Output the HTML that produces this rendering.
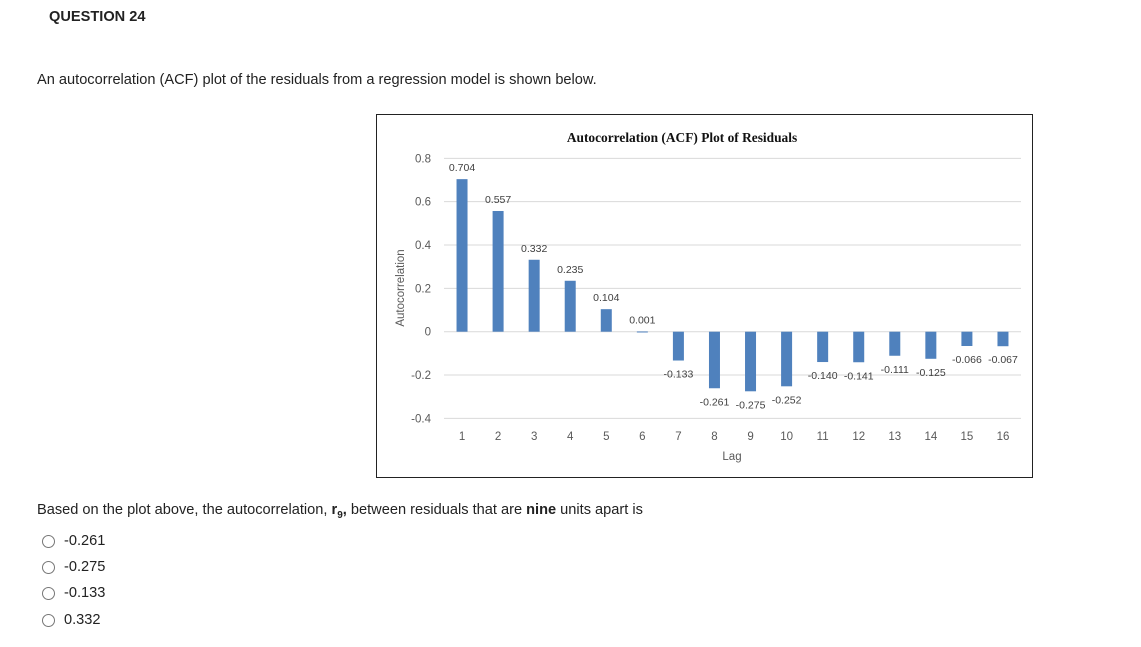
<!DOCTYPE html>
<html><head><meta charset="utf-8"><style>
body{margin:0;width:1141px;height:647px;background:#fff;font-family:"Liberation Sans",Arial,sans-serif;color:#222;position:relative;overflow:hidden}
.abs{position:absolute;white-space:nowrap}
.opt{position:absolute;left:42px;font-size:14.6px;display:flex;align-items:center}
.opt span.c{display:inline-block;width:11px;height:11px;border:1px solid #777;border-radius:50%;margin-right:9px}
</style></head><body>
<div class="abs" style="left:49px;top:9px;font-size:14.6px;font-weight:bold">QUESTION 24</div>
<div class="abs" style="left:37px;top:72px;font-size:14.6px">An autocorrelation (ACF) plot of the residuals from a regression model is shown below.</div>
<svg id="chart" style="position:absolute;left:0;top:0" width="1141" height="647" font-family="'Liberation Sans',Arial,sans-serif"></svg>
<div class="abs" style="left:37px;top:502px;font-size:14.6px">Based on the plot above, the autocorrelation, <b>r<sub style="font-size:10px">9</sub>,</b> between residuals that are <b>nine</b> units apart is</div>
<div class="opt" style="top:533px"><span class="c"></span>-0.261</div>
<div class="opt" style="top:559px"><span class="c"></span>-0.275</div>
<div class="opt" style="top:585px"><span class="c"></span>-0.133</div>
<div class="opt" style="top:612px"><span class="c"></span>0.332</div>
<script>
const lags=[1,2,3,4,5,6,7,8,9,10,11,12,13,14,15,16];
const acf=[0.704,0.557,0.332,0.235,0.104,0.001,-0.133,-0.261,-0.275,-0.252,-0.140,-0.141,-0.111,-0.125,-0.066,-0.067];
const yTicks=[0.8,0.6,0.4,0.2,0,-0.2,-0.4];
const yTickLabels=["0.8","0.6","0.4","0.2","0","-0.2","-0.4"];
const svg=document.getElementById('chart');
const NS='http://www.w3.org/2000/svg';
const L=444,R=1021,Y0=331.7,K=216.7;
const bw=(R-L)/lags.length;
function y(v){return Y0-v*K;}
function x(i){return L+bw*(i+0.5);}
function mk(t,a,txt){const e=document.createElementNS(NS,t);for(const k in a)e.setAttribute(k,a[k]);if(txt!==undefined)e.textContent=txt;svg.appendChild(e);return e;}
let e=mk('rect',{x:376.5,y:114.5,width:656,height:363,fill:'#fff',stroke:'#222'});


e=mk('text',{x:682,y:142,'text-anchor':'middle','font-size':13.4,'font-weight':'bold','font-family':"'Liberation Serif',serif",fill:'#111'},'Autocorrelation (ACF) Plot of Residuals');


yTicks.forEach((v,i)=>{
 let g=mk('line',{x1:L,x2:R,y1:y(v),y2:y(v),stroke:'#d9d9d9','stroke-width':1});
 
 
 let t=mk('text',{x:431,y:y(v)+4,'text-anchor':'end','font-size':11.5,fill:'#595959'},yTickLabels[i]);
 
 
});
e=mk('text',{x:0,y:0,'text-anchor':'middle','font-size':11.5,fill:'#595959',transform:'translate(404,288) rotate(-90)'},'Autocorrelation');


e=mk('text',{x:732,y:460,'text-anchor':'middle','font-size':11.5,fill:'#595959'},'Lag');


lags.forEach((lg,i)=>{
 const v=acf[i],cx=x(i);
 const top=Math.min(y(v),Y0),h=Math.max(Math.abs(y(v)-Y0),1);
 let b=mk('rect',{x:cx-5.5,y:top,width:11,height:h,fill:'#4f81bd'});
 
 
 const ly=v>=0?y(v)-8:y(v)+17;
 let t=mk('text',{x:cx,y:ly,'text-anchor':'middle','font-size':10.5,fill:'#404040'},v.toFixed(3));
 
 
 let xt=mk('text',{x:cx,y:440,'text-anchor':'middle','font-size':11.5,fill:'#595959'},String(lg));
 
 
});
</script>
</body></html>
